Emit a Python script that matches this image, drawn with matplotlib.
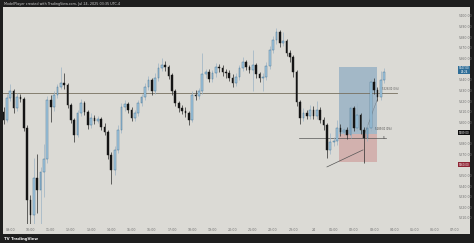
import matplotlib
matplotlib.use('Agg')
import matplotlib.pyplot as plt
import matplotlib.transforms as mtransforms
from matplotlib.patches import Rectangle

# ---------------- data ----------------
first_open = 5310
close = [5302, 5323, 5329, 5313, 5324, 5322, 5295, 5227, 5213, 5248,
         5236, 5253, 5265, 5321, 5314, 5326, 5333, 5337, 5335, 5316,
         5302, 5288, 5309, 5318, 5310, 5297, 5304, 5301, 5303, 5296,
         5291, 5269, 5255, 5274, 5293, 5314, 5317, 5312, 5304, 5309,
         5318, 5324, 5333, 5340, 5329, 5342, 5351, 5354, 5352, 5344,
         5329, 5318, 5313, 5311, 5309, 5302, 5326, 5325, 5329, 5345,
         5347, 5341, 5346, 5352, 5351, 5347, 5346, 5342, 5337, 5343,
         5351, 5357, 5352, 5349, 5354, 5345, 5342, 5343, 5353, 5368,
         5377, 5385, 5375, 5376, 5365, 5361, 5347, 5319, 5304, 5309,
         5306, 5312, 5306, 5312, 5302, 5297, 5274, 5281, 5282, 5295,
         5291, 5293, 5288, 5313, 5295, 5307, 5293, 5285, 5295, 5338,
         5330, 5324, 5340, 5347]
high = [5314, 5327, 5336, 5331, 5328, 5327, 5324, 5297, 5232, 5266,
        5270, 5258, 5280, 5325, 5326, 5329, 5336, 5352, 5346, 5337,
        5318, 5304, 5312, 5322, 5320, 5312, 5309, 5307, 5306, 5305,
        5299, 5293, 5272, 5278, 5297, 5318, 5321, 5319, 5314, 5312,
        5321, 5327, 5337, 5344, 5342, 5346, 5356, 5360, 5358, 5354,
        5346, 5331, 5320, 5316, 5314, 5311, 5329, 5330, 5332, 5365,
        5350, 5350, 5349, 5356, 5355, 5354, 5350, 5349, 5345, 5346,
        5354, 5361, 5359, 5354, 5368, 5356, 5347, 5346, 5357, 5372,
        5381, 5389, 5387, 5385, 5378, 5368, 5363, 5349, 5321, 5313,
        5312, 5316, 5315, 5320, 5314, 5305, 5299, 5290, 5286, 5302,
        5298, 5296, 5296, 5316, 5315, 5318, 5309, 5296, 5298, 5341,
        5342, 5333, 5348, 5351]
low = [5298, 5300, 5320, 5309, 5311, 5319, 5292, 5203, 5201, 5203,
       5215, 5203, 5230, 5262, 5300, 5311, 5323, 5331, 5331, 5313,
       5299, 5281, 5286, 5306, 5307, 5294, 5295, 5298, 5299, 5293,
       5288, 5265, 5242, 5250, 5271, 5290, 5311, 5309, 5301, 5301,
       5306, 5315, 5321, 5330, 5326, 5327, 5339, 5348, 5348, 5341,
       5326, 5315, 5310, 5308, 5305, 5297, 5300, 5321, 5322, 5327,
       5342, 5338, 5338, 5343, 5347, 5344, 5342, 5339, 5333, 5334,
       5340, 5348, 5349, 5346, 5329, 5342, 5338, 5329, 5340, 5350,
       5365, 5374, 5371, 5372, 5362, 5357, 5343, 5315, 5298, 5301,
       5303, 5303, 5303, 5303, 5299, 5293, 5266, 5270, 5278, 5279,
       5287, 5288, 5284, 5285, 5292, 5292, 5289, 5262, 5282, 5292,
       5327, 5320, 5321, 5337]
opens = [first_open] + close[:-1]

time_labels = ["09:00", "10:00", "11:00", "12:00", "13:00", "14:00", "15:00",
               "16:00", "17:00", "18:00", "19:00", "20:00", "21:00", "22:00",
               "23:00", "24", "01:00", "02:00", "03:00", "04:00", "05:00",
               "06:00", "07:00"]
price_ticks = list(range(5210, 5401, 10))

hline_level = 5328
entry_level = 5289
target_level = 5352
stop_level = 5263
ray_level = 5285
trend_start = (96.0, 5258)
trend_end = (106.7, 5274)
last_price = 5347
box_levels = [5349, 5290, 5260]

# ---------------- figure ----------------
W, H = 474, 243
fig = plt.figure(figsize=(W / 100, H / 100), dpi=100, facecolor='#1e1e1e')
fig.patches.append(Rectangle((3 / W, 9 / H), 467 / W, 227 / H,
                             transform=fig.transFigure, facecolor='#dbdad5',
                             edgecolor='none', zorder=-5))

ax = fig.add_axes([3 / W, 19 / H, 453 / W, 216 / H])
ax.set_zorder(2)
ax.set_facecolor('none')
for s in ax.spines.values():
    s.set_visible(False)
ax.set_xlim(-0.15, 134.3)
ax.set_ylim(5204.3, 5407.5)

n = len(close)
xs = list(range(n))
up_face, up_edge, up_wick = '#a6c9e0', '#3a6b8c', '#9bb3c4'
dn_face, dn_edge, dn_wick = '#141414', '#141414', '#2a2a2a'

wick_colors = [up_wick if c >= o else dn_wick for o, c in zip(opens, close)]
ax.vlines(xs, low, high, colors=wick_colors, lw=0.5, zorder=3)
bottoms = [min(o, c) for o, c in zip(opens, close)]
heights = [max(abs(c - o), 0.8) for o, c in zip(opens, close)]
faces = [up_face if c >= o else dn_face for o, c in zip(opens, close)]
edges = [up_edge if c >= o else dn_edge for o, c in zip(opens, close)]
ax.bar(xs, heights, bottom=bottoms, width=0.5, color=faces,
       edgecolor=edges, linewidth=0.3, zorder=4)

# horizontal level line
ax.plot([-0.5, 116.8], [hline_level, hline_level], color='#77705f', lw=0.6, zorder=2)
ax.text(112.4, hline_level + 1.2, f"{hline_level:.2f} (0%)", fontsize=1.8,
        color='#555555', va='bottom', ha='left', zorder=6)

# long position tool
ax.add_patch(Rectangle((99.6, entry_level), 11.2, target_level - entry_level,
                       facecolor='#5f8fb6', alpha=0.45, edgecolor='none', zorder=1))
ax.add_patch(Rectangle((99.6, stop_level), 11.2, entry_level - stop_level,
                       facecolor='#c98080', alpha=0.45, edgecolor='none', zorder=1))
ax.plot([87.7, 113.5], [ray_level, ray_level], color='#555555', lw=0.5, zorder=2)
ax.text(110.2, entry_level + 3, f"{entry_level:.2f} (0%)", fontsize=1.8,
        color='#444444', ha='left', va='bottom', zorder=6)
ax.text(112.6, ray_level, "R", fontsize=1.8, color='#444444', ha='left',
        va='center', zorder=6)
ax.plot([trend_start[0], trend_end[0]], [trend_start[1], trend_end[1]],
        color='#555555', lw=0.5, zorder=2)
ax.plot([106.7, 111.0], [ray_level, 5322], color='#555555', lw=0.4,
        ls=(0, (1, 1)), zorder=2)

# axes ticks (labels hidden behind the price boxes are left blank)
ax.yaxis.tick_right()
ax.set_yticks(price_ticks)
ax.set_yticklabels(["" if any(abs(p - b) < 5 for b in box_levels) else f"{p:.2f}"
                    for p in price_ticks])
ax.tick_params(axis='y', length=0, pad=1.8, labelsize=2.3, labelcolor='#707070')
ax.set_xticks([2 + 6 * k for k in range(len(time_labels))])
ax.set_xticklabels(time_labels)
ax.tick_params(axis='x', length=0, pad=3.0, labelsize=2.3, labelcolor='#707070')

# price axis boxes
btr = mtransforms.blended_transform_factory(ax.transAxes, ax.transData)
bx0 = (458 - 3) / 453
bw = 12 / 453
def price_box(level, hgt, color, lines):
    ax.add_patch(Rectangle((bx0, level - hgt / 2), bw, hgt, transform=btr,
                           facecolor=color, edgecolor='none', clip_on=False, zorder=7))
    ax.text(bx0 + bw / 2, level, "\n".join(lines), transform=btr, fontsize=1.9,
            color='white', ha='center', va='center', linespacing=1.1,
            clip_on=False, zorder=8)

price_box(box_levels[0], 7.5, '#2e6d97', [f"{last_price:.2f}", "26:24"])
price_box(box_levels[1], 4.7, '#0c0c0c', [f"{entry_level:.2f}"])
price_box(box_levels[2], 4.7, '#8e2434', [f"{box_levels[2]:.2f}"])

# header / footer texts
fig.text(4 / W, 1 - 3.5 / H,
         "ModelPlayer created with TradingView.com, Jul 24, 2025 03:35 UTC-4",
         color='#d0d0d0', fontsize=2.4, va='center', ha='left')
fig.text(4 / W, 4.5 / H, "TV TradingView", color='#f0f0f0', fontsize=2.8,
         fontweight='bold', va='center', ha='left')

fig.savefig('out.png', dpi=100, facecolor=fig.get_facecolor())
